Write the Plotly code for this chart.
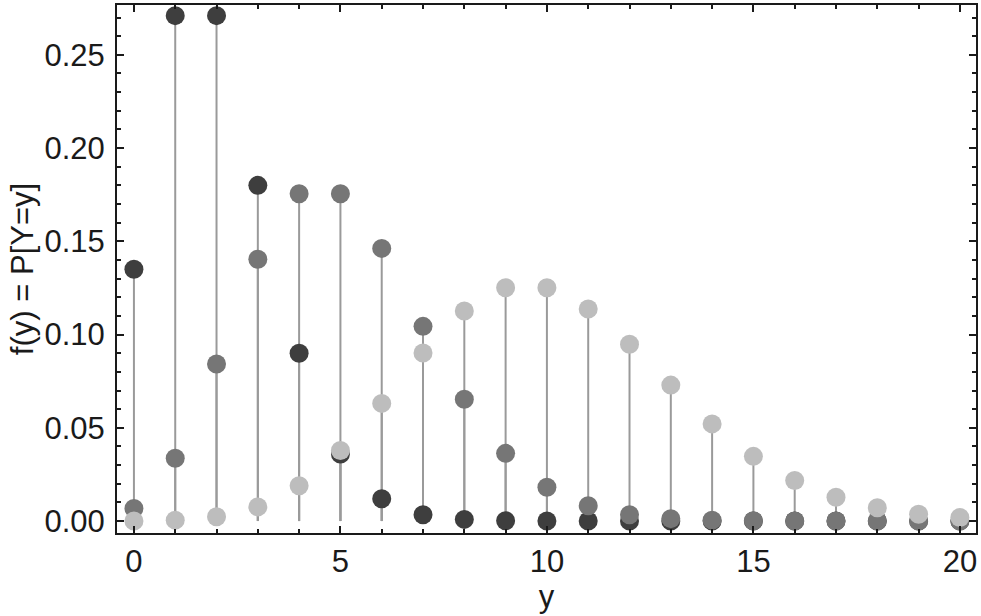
import plotly.graph_objects as go

# Poisson pmf values, y = 0..20
y_vals = list(range(21))
f_lam2 = [0.135, 0.271, 0.271, 0.180, 0.090, 0.036, 0.012, 0.0034, 0.0009, 0.0002,
          0.0, 0.0, 0.0, 0.0, 0.0, 0.0, 0.0, 0.0, 0.0, 0.0, 0.0]
f_lam5 = [0.0067, 0.0337, 0.0842, 0.1404, 0.1755, 0.1755, 0.1462, 0.1044, 0.0653, 0.0363,
          0.0181, 0.0082, 0.0034, 0.0013, 0.0005, 0.0002, 0.0, 0.0, 0.0, 0.0, 0.0]
f_lam10 = [0.0, 0.0005, 0.0023, 0.0076, 0.0189, 0.0378, 0.0631, 0.0901, 0.1126, 0.1251,
           0.1251, 0.1137, 0.0948, 0.0729, 0.0521, 0.0347, 0.0217, 0.0128, 0.0071, 0.0037, 0.0019]

series = [(f_lam2, "#3e3e3e"), (f_lam5, "#767676"), (f_lam10, "#bdbdbd")]
FONT = "Liberation Sans, Arial, Helvetica"

fig = go.Figure()

# ── Stems ────────────────────────────────────────────────────────────────
for vals, _ in series:
    sx, sy = [], []
    for k, v in zip(y_vals, vals):
        sx += [k, k, None]
        sy += [0, v, None]
    fig.add_trace(go.Scatter(x=sx, y=sy, mode="lines",
                             line=dict(color="#9a9a9a", width=2),
                             hoverinfo="skip", showlegend=False))

# ── Points ───────────────────────────────────────────────────────────────
for vals, col in series:
    fig.add_trace(go.Scatter(x=y_vals, y=vals, mode="markers",
                             marker=dict(color=col, size=19, line=dict(width=0)),
                             showlegend=False))

axis_common = dict(
    showline=True, linecolor="#1a1a1a", linewidth=2, mirror="ticks",
    ticks="inside", tickcolor="#1a1a1a", ticklen=7, tickwidth=2,
    showgrid=False, zeroline=False,
    tickfont=dict(family=FONT, size=31, color="#1a1a1a"),
)

fig.update_xaxes(
    range=[-0.41, 20.39], tickvals=[0, 5, 10, 15, 20],
    minor=dict(ticks="inside", ticklen=4, tickcolor="#1a1a1a", dtick=1, tick0=0, showgrid=False),
    title=dict(text="y", font=dict(family=FONT, size=31, color="#1a1a1a"), standoff=6),
    **axis_common)
fig.update_yaxes(
    range=[-0.0064, 0.2767], tickvals=[0, 0.05, 0.10, 0.15, 0.20, 0.25], tickformat=".2f",
    ticklabelstandoff=4,
    minor=dict(ticks="inside", ticklen=4, tickcolor="#1a1a1a", dtick=0.01, tick0=0, showgrid=False),
    title=dict(text="f(y) = P[Y=y]", font=dict(family=FONT, size=31, color="#1a1a1a"), standoff=2),
    **axis_common)

fig.update_layout(
    width=981, height=616,
    margin=dict(l=117, r=3, t=3, b=83),
    plot_bgcolor="white", paper_bgcolor="white",
)

fig.write_html("out.html", config={"displayModeBar": False},
               post_script="document.body.style.margin='0';")
